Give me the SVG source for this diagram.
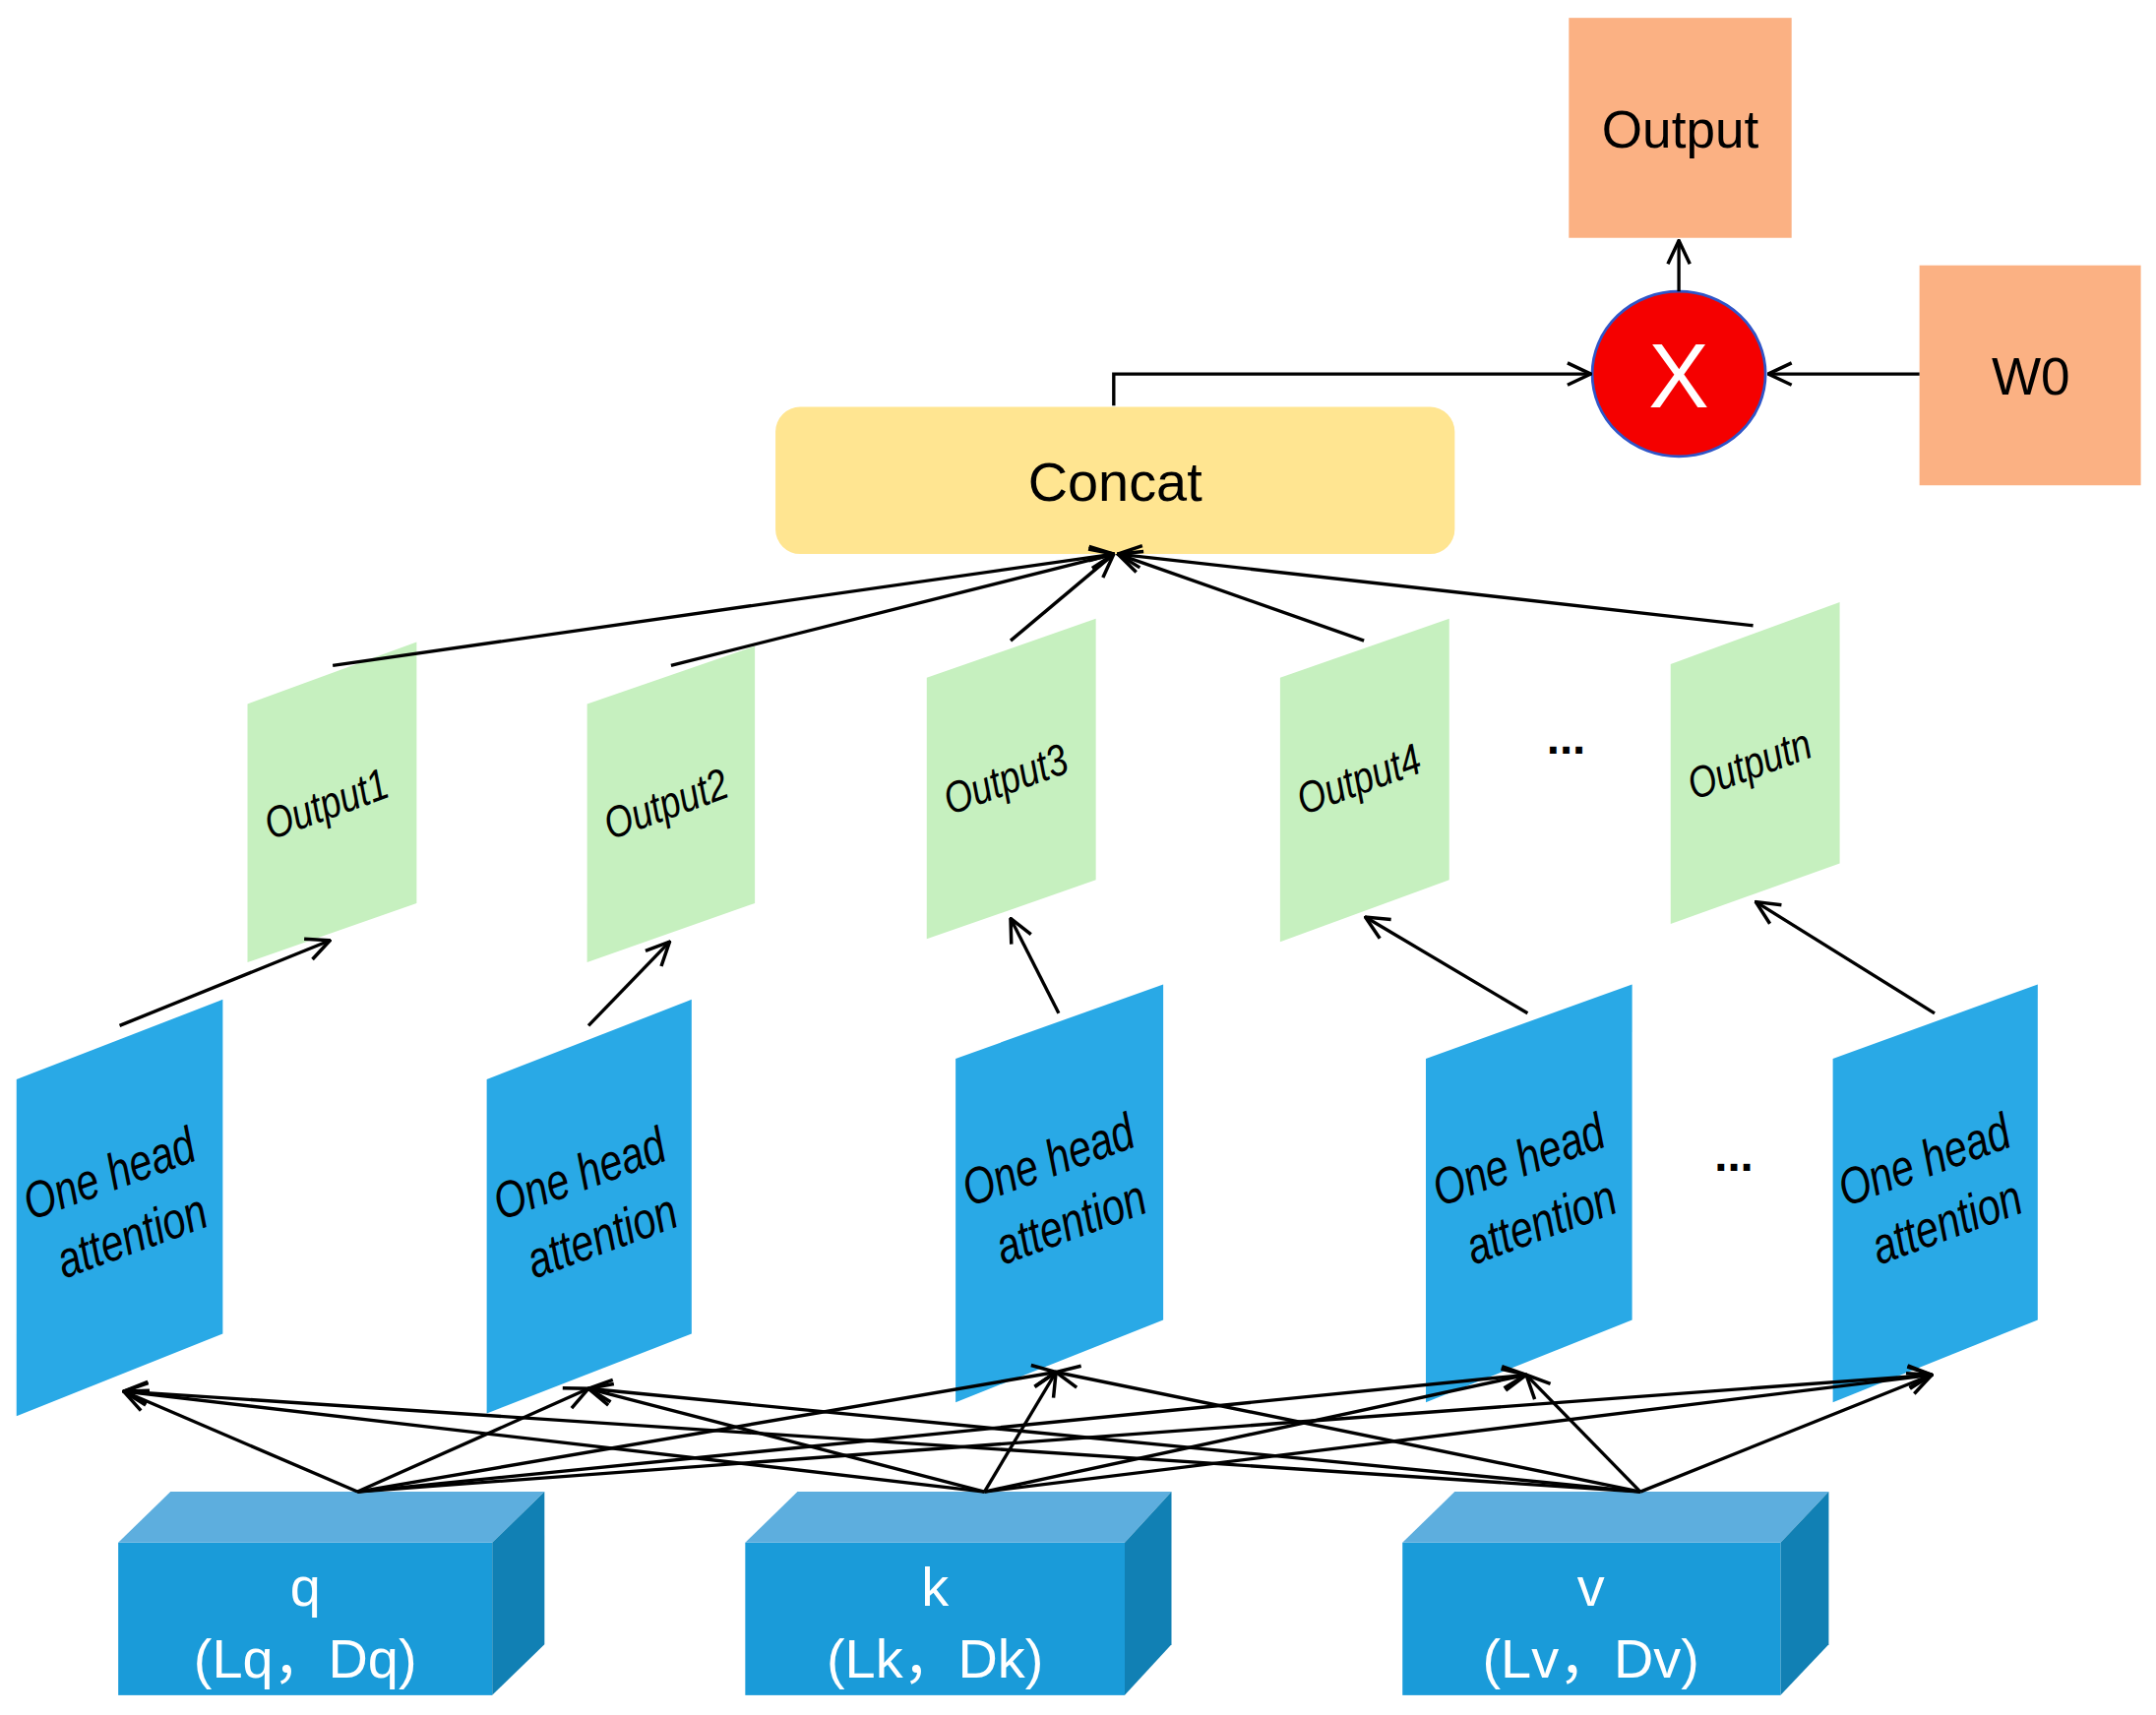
<svg xmlns="http://www.w3.org/2000/svg" width="2191" height="1743" viewBox="0 0 2191 1743">
<defs>
<marker id="ah" viewBox="0 0 20 20" refX="19" refY="10" markerWidth="20" markerHeight="20" markerUnits="userSpaceOnUse" orient="auto"><path d="M2,2 L19,10 L2,18" fill="none" stroke="#000" stroke-width="2.5"/></marker>
<style>
.c{stroke:#000;stroke-width:2.4;fill:none;marker-end:url(#ah)}
.g{fill:#C6F0BF}
.b{fill:#29A9E6}
.t{font-family:"Liberation Sans",Arial,sans-serif;text-anchor:middle}
.i{font-family:"Liberation Sans",Arial,sans-serif;font-style:italic;text-anchor:middle;fill:#000}
.w{fill:#fff;font-family:"Liberation Sans","Noto Sans CJK SC",sans-serif;text-anchor:middle;font-size:40px}
.ft{fill:#1A9BD9}.tp{fill:#5DAEDE}.sd{fill:#1180B4}
.o{fill:#FBB183}
</style>
</defs>
<rect width="2191" height="1743" fill="#fff"/>
<g transform="scale(1.3973)">
<g id="output"><rect class="o" x="1141" y="13" width="162" height="160"/><text class="t" x="1222" y="107" font-size="38">Output</text></g>
<g id="w0"><rect class="o" x="1396" y="193" width="161" height="160"/><text class="t" x="1477" y="287" font-size="38">W0</text></g>
<g id="mult"><ellipse cx="1221" cy="272" rx="63" ry="60" fill="#F50000" stroke="#2F55C8" stroke-width="2"/><text x="1221" y="296" fill="#fff" font-size="66" font-family="Liberation Sans,Arial,sans-serif" text-anchor="middle">X</text></g>
<g id="concat"><rect x="564" y="296" width="494" height="107" rx="18" fill="#FFE591"/><text class="t" x="811" y="364" font-size="40">Concat</text></g>
<g id="out1"><polygon class="g" points="180,512 303,467 303,657 180,700"/><text class="i" font-size="32" transform="translate(241,595) rotate(-20) scale(0.82,1)">Output1</text></g>
<g id="out2"><polygon class="g" points="427,512 549,470 549,657 427,700"/><text class="i" font-size="32" transform="translate(488,595) rotate(-20) scale(0.82,1)">Output2</text></g>
<g id="out3"><polygon class="g" points="674,493 797,450 797,640 674,683"/><text class="i" font-size="32" transform="translate(735,577) rotate(-20) scale(0.82,1)">Output3</text></g>
<g id="out4"><polygon class="g" points="931,493 1054,450 1054,640 931,685"/><text class="i" font-size="32" transform="translate(992,577) rotate(-20) scale(0.82,1)">Output4</text></g>
<g id="outn"><polygon class="g" points="1215,483 1338,438 1338,628 1215,672"/><text class="i" font-size="32" transform="translate(1276,566) rotate(-20) scale(0.82,1)">Outputn</text></g>
<text class="t" x="1139" y="548" font-size="34" font-weight="bold">...</text>
<text class="t" x="1261" y="852" font-size="34" font-weight="bold">...</text>
<g id="h1"><polygon class="b" points="12,785 162,727 162,970 12,1030"/><text class="i" font-size="37" transform="translate(87,875) rotate(-20) scale(0.8,1)"><tspan x="0" y="-10">One head</tspan><tspan x="0" y="38">attention</tspan></text></g>
<g id="h2"><polygon class="b" points="354,785 503,727 503,970 354,1028"/><text class="i" font-size="37" transform="translate(429,875) rotate(-20) scale(0.8,1)"><tspan x="0" y="-10">One head</tspan><tspan x="0" y="38">attention</tspan></text></g>
<g id="h3"><polygon class="b" points="695,770 846,716 846,960 695,1020"/><text class="i" font-size="37" transform="translate(770,865) rotate(-20) scale(0.8,1)"><tspan x="0" y="-10">One head</tspan><tspan x="0" y="38">attention</tspan></text></g>
<g id="h4"><polygon class="b" points="1037,770 1187,716 1187,960 1037,1020"/><text class="i" font-size="37" transform="translate(1112,865) rotate(-20) scale(0.8,1)"><tspan x="0" y="-10">One head</tspan><tspan x="0" y="38">attention</tspan></text></g>
<g id="h5"><polygon class="b" points="1333,770 1482,716 1482,960 1333,1020"/><text class="i" font-size="37" transform="translate(1407,865) rotate(-20) scale(0.8,1)"><tspan x="0" y="-10">One head</tspan><tspan x="0" y="38">attention</tspan></text></g>
<g id="q"><rect class="ft" x="86" y="1122" width="272" height="111"/><polygon class="tp" points="86,1122 124,1085 396,1085 358,1122"/><polygon class="sd" points="358,1122 396,1085 396,1196 358,1233"/><text class="w" x="222" y="1168">q</text><text class="w" x="222" y="1220">(Lq，Dq)</text></g>
<g id="k"><rect class="ft" x="542" y="1122" width="276" height="111"/><polygon class="tp" points="542,1122 580,1085 852,1085 818,1122"/><polygon class="sd" points="818,1122 852,1085 852,1196 818,1233"/><text class="w" x="680" y="1168">k</text><text class="w" x="680" y="1220">(Lk，Dk)</text></g>
<g id="v"><rect class="ft" x="1020" y="1122" width="275" height="111"/><polygon class="tp" points="1020,1122 1058,1085 1330,1085 1295,1122"/><polygon class="sd" points="1295,1122 1330,1085 1330,1196 1295,1233"/><text class="w" x="1157" y="1168">v</text><text class="w" x="1157" y="1220">(Lv，Dv)</text></g>
<g id="connectors">
<line class="c" x1="1221" y1="212" x2="1221" y2="175"/>
<line class="c" x1="1396" y1="272" x2="1286" y2="272"/>
<polyline class="c" points="810,295 810,272 1157,272"/>
<line class="c" x1="87" y1="746" x2="240" y2="684"/>
<line class="c" x1="428" y1="746" x2="487" y2="685"/>
<line class="c" x1="770" y1="737" x2="735" y2="668"/>
<line class="c" x1="1111" y1="737" x2="993" y2="667"/>
<line class="c" x1="1407" y1="737" x2="1277" y2="656"/>
<line class="c" x1="242" y1="484" x2="810" y2="403"/>
<line class="c" x1="488" y1="484" x2="810" y2="403"/>
<line class="c" x1="735" y1="466" x2="810" y2="403"/>
<line class="c" x1="992" y1="466" x2="813" y2="403"/>
<line class="c" x1="1275" y1="455" x2="813" y2="403"/>
<line class="c" x1="260" y1="1085" x2="90" y2="1012"/><line class="c" x1="260" y1="1085" x2="428" y2="1010"/><line class="c" x1="260" y1="1085" x2="768" y2="998"/><line class="c" x1="260" y1="1085" x2="1110" y2="1000"/><line class="c" x1="260" y1="1085" x2="1405" y2="1000"/>
<line class="c" x1="716" y1="1085" x2="90" y2="1012"/><line class="c" x1="716" y1="1085" x2="428" y2="1010"/><line class="c" x1="716" y1="1085" x2="768" y2="998"/><line class="c" x1="716" y1="1085" x2="1110" y2="1000"/><line class="c" x1="716" y1="1085" x2="1405" y2="1000"/>
<line class="c" x1="1193" y1="1085" x2="90" y2="1012"/><line class="c" x1="1193" y1="1085" x2="428" y2="1010"/><line class="c" x1="1193" y1="1085" x2="768" y2="998"/><line class="c" x1="1193" y1="1085" x2="1110" y2="1000"/><line class="c" x1="1193" y1="1085" x2="1405" y2="1000"/>
</g>
</g>
</svg>
